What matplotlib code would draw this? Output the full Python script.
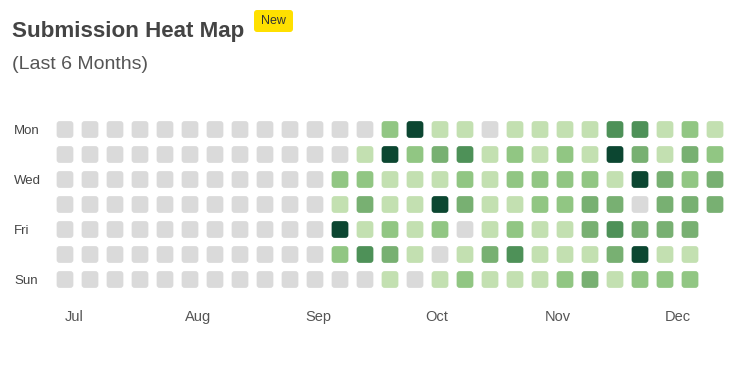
import matplotlib.pyplot as plt
from matplotlib.patches import FancyBboxPatch
import numpy as np

plt.rcParams['font.family'] = ['Liberation Sans', 'DejaVu Sans']

days = ["Mon", "Tue", "Wed", "Thu", "Fri", "Sat", "Sun"]
day_labels = {"Mon": 0, "Wed": 2, "Fri": 4, "Sun": 6}
months = ["Jul", "Aug", "Sep", "Oct", "Nov", "Dec"]
month_pos = [0.0, 4.8, 9.6, 14.4, 19.2, 24.0]

# activity level per week (columns 11..26), rows Mon..Sun, -1 = no cell
# weeks 0..10 are all empty (level 0)
recent = [
    [0, 0, 2, 5, 1, 1, 0, 1, 1, 1, 1, 4, 4, 1, 2, 1],
    [0, 1, 5, 2, 3, 4, 1, 2, 1, 2, 1, 5, 3, 1, 3, 2],
    [2, 2, 1, 1, 1, 2, 1, 2, 2, 2, 2, 1, 5, 3, 2, 3],
    [1, 3, 1, 1, 5, 3, 1, 1, 2, 2, 3, 3, 0, 3, 3, 3],
    [5, 1, 2, 1, 2, 0, 1, 2, 1, 1, 3, 4, 3, 3, 3, -1],
    [2, 4, 3, 1, 0, 1, 3, 4, 1, 1, 1, 3, 5, 1, 1, -1],
    [0, 0, 1, 0, 1, 2, 1, 1, 1, 2, 3, 1, 2, 2, 2, -1],
]
n_weeks = 27
levels = np.zeros((7, n_weeks), dtype=int)
levels[:, 11:] = np.array(recent)

palette = ["#dadada", "#c3e0b1", "#91c683", "#78b072", "#4e9158", "#0c4631"]

fig = plt.figure(figsize=(7.42, 3.66), dpi=100)
W, H = 742, 366

# overlay in pixel coords for the header
top = fig.add_axes([0, 0, 1, 1])
top.set_xlim(0, W)
top.set_ylim(H, 0)
top.axis("off")
top.text(12, 37, "Submission Heat Map", fontsize=16.1, fontweight="bold",
         color="#444444", ha="left", va="baseline")
top.text(12, 69, "(Last 6 Months)", fontsize=14, color="#555555",
         ha="left", va="baseline")
top.add_patch(FancyBboxPatch((254, 10), 39, 22,
                             boxstyle="round,pad=0,rounding_size=3",
                             fc="#ffe000", ec="none"))
top.text(273.5, 21.5, "New", fontsize=9, color="#333333", ha="center", va="center")

# grid axes: column centre px = 65 + 25*i, row centre px = 129.5 + 25*r
x0, x1 = 65 - 12.5, 65 + 25 * 26 + 12.5
y0, y1 = 129.5 - 12.5, 129.5 + 25 * 6 + 12.5
ax = fig.add_axes([x0 / W, 1 - y1 / H, (x1 - x0) / W, (y1 - y0) / H])
ax.set_xlim(-0.5, n_weeks - 0.5)
ax.set_ylim(6.5, -0.5)
ax.axis("off")

s = 0.67
for r in range(7):
    for c in range(n_weeks):
        lv = levels[r, c]
        if lv < 0:
            continue
        ax.add_patch(FancyBboxPatch((c - s / 2, r - s / 2), s, s,
                                    boxstyle="round,pad=0,rounding_size=0.12",
                                    fc=palette[lv], ec="none"))

for name, r in day_labels.items():
    ax.text(-2.04, r + 0.05, name, ha="left", va="center", fontsize=9.5,
            color="#444444", clip_on=False)

for m, p in zip(months, month_pos):
    ax.text(p, 7.5, m, ha="left", va="center", fontsize=10.5,
            color="#555555", clip_on=False)

fig.savefig("out.png", dpi=100, facecolor="white")
